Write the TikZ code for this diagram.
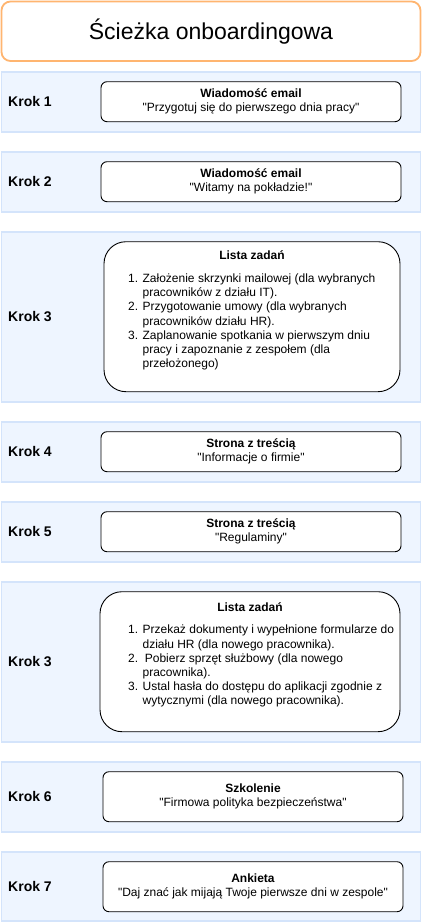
\documentclass[tikz,border=0pt]{standalone}
\usepackage{fontspec}
\setmainfont{Liberation Sans}
\usetikzlibrary{positioning}

\definecolor{bandfill}{RGB}{238,245,255}
\definecolor{bandline}{RGB}{212,228,251}
\definecolor{titleline}{RGB}{255,181,112}

\newcommand{\qq}[1]{\textquotedbl#1\textquotedbl}

\tikzset{
	band/.style={draw=bandline, fill=bandfill, line width=1.6pt},
	card/.style={draw=black, fill=white, line width=0.9pt, rounded corners=6pt},
	bigcard/.style={card, rounded corners=22pt},
	steplabel/.style={anchor=west, inner sep=0pt, font=\fontsize{14}{16}\selectfont\bfseries},
	cardtext/.style={align=center, inner sep=0pt, font=\fontsize{12}{14.2}\selectfont},
	listtext/.style={align=left, anchor=north west, inner sep=0pt, font=\fontsize{12}{14.2}\selectfont},
}

\begin{document}
\begin{tikzpicture}[x=1pt, y=-1pt]
		\useasboundingbox (0,0) rectangle (422,922);
		
		% title
		\draw[line width=1.8pt, draw=titleline, fill=white, rounded corners=9pt] (1.5,1.5) rectangle (420.5,61);
		\node[inner sep=0pt, font=\fontsize{23}{26}\selectfont] (title) at (211,31.5) {Ścieżka onboardingowa};
		
		% bands
		\draw[band] (1.5, 71.7) rectangle (420.5, 131.7);
		\draw[band] (1.5,151.7) rectangle (420.5,211.7);
		\draw[band] (1.5,231.7) rectangle (420.5,401.7);
		\draw[band] (1.5,421.7) rectangle (420.5,481.7);
		\draw[band] (1.5,501.7) rectangle (420.5,561.7);
		\draw[band] (1.5,581.7) rectangle (420.5,741.7);
		\draw[band] (1.5,761.7) rectangle (420.5,831.7);
		\draw[band] (1.5,851.7) rectangle (420.5,921);
		
		% cards
		\draw[card] (101, 81.7) rectangle (401,121.7);
		\draw[card] (101,161.7) rectangle (401,201.7);
		\draw[bigcard] (104,241.7) rectangle (400,391.7);
		\draw[card] (101,431.7) rectangle (401,471.7);
		\draw[card] (101,511.7) rectangle (401,551.7);
		\draw[bigcard] (100,591.7) rectangle (400,731.7);
		\draw[card] (103,771.7) rectangle (403,821.7);
		\draw[card] (103,861.7) rectangle (403,911.7);
		
		% step labels
		\node[steplabel] (k1) at (8,101.7) {Krok 1};
		\node[steplabel] (k2) at (8,181.7) {Krok 2};
		\node[steplabel] (k3) at (8,316.7) {Krok 3};
		\node[steplabel] (k4) at (8,451.7) {Krok 4};
		\node[steplabel] (k5) at (8,531.7) {Krok 5};
		\node[steplabel] (k3b) at (8,661.7) {Krok 3};
		\node[steplabel] (k6) at (8,796.7) {Krok 6};
		\node[steplabel] (k7) at (8,886.7) {Krok 7};
		
		% card texts
		\node[cardtext] (mail1) at (251,101.7) {\textbf{Wiadomość email}\\\qq{Przygotuj się do pierwszego dnia pracy}};
		\node[cardtext] (mail2) at (251,181.7) {\textbf{Wiadomość email}\\\qq{Witamy na pokładzie!}};
		\node[cardtext] (page1) at (251,451.7) {\textbf{Strona z treścią}\\\qq{Informacje o firmie}};
		\node[cardtext] (page2) at (251,531.7) {\textbf{Strona z treścią}\\\qq{Regulaminy}};
		\node[cardtext] (train) at (253,796.7) {\textbf{Szkolenie}\\\qq{Firmowa polityka bezpieczeństwa}};
		\node[cardtext] (survey) at (253,886.7) {\textbf{Ankieta}\\\qq{Daj znać jak mijają Twoje pierwsze dni w zespole}};
		
		% task lists
		\node[cardtext] (todo1) at (252,255) {\textbf{Lista zadań}};
		\node[listtext] (items1) at (128,273.5) {1. Założenie skrzynki mailowej (dla wybranych\\
			\hphantom{1. }pracowników z działu IT).\\
			2. Przygotowanie umowy (dla wybranych\\
			\hphantom{2. }pracowników działu HR).\\
			3. Zaplanowanie spotkania w pierwszym dniu\\
			\hphantom{3. }pracy i zapoznanie z zespołem (dla\\
			\hphantom{3. }przełożonego)};
		\node[cardtext] (todo2) at (250,606.7) {\textbf{Lista zadań}};
		\node[listtext] (items2) at (128,625) {1. Przekaż dokumenty i wypełnione formularze do\\
			\hphantom{1. }działu HR (dla nowego pracownika).\\
			2.\ \ Pobierz sprzęt służbowy (dla nowego\\
			\hphantom{2. }pracownika).\\
			3. Ustal hasła do dostępu do aplikacji zgodnie z\\
			\hphantom{3. }wytycznymi (dla nowego pracownika).};
	\end{tikzpicture}
\end{document}
